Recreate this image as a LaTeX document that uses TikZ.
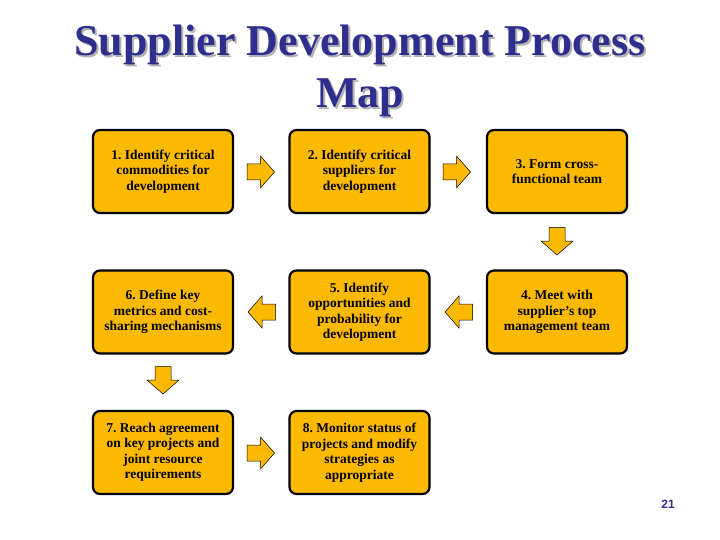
\documentclass[tikz,border=0pt]{standalone}
\usepackage{fontspec}
\setmainfont{Liberation Serif}
\setsansfont{Liberation Sans}
\definecolor{boxfill}{HTML}{FBBA00}
\definecolor{navy}{HTML}{2E2E8E}
\newcommand{\blkarrow}[4]{%
  \coordinate (#1) at (#2,#3);
  \draw[blk,shift={(#2,#3)},rotate=#4] (-13.5,-8)--(0,-8)--(0,-16)--(14,0)--(0,16)--(0,8)--(-13.5,8)--cycle;}
\begin{document}
\begin{tikzpicture}[x=1pt,y=-1pt,
  stepbox/.style={draw=black,line width=2.2pt,rounded corners=7pt,fill=boxfill,minimum width=140pt,minimum height=83pt,align=center,font=\bfseries\fontsize{13.5}{15.5}\selectfont,inner sep=2pt},
  blk/.style={draw=black,line width=0.5pt,fill=boxfill},
  ttl/.style={font=\bfseries\fontsize{44}{52}\selectfont,align=center}]
\useasboundingbox (0,0) rectangle (720,540);
\fill[white] (0,0) rectangle (720,540);
\node[ttl,text=gray!60] (shadow) at (362,73) {Supplier Development Process\\Map};
\node[ttl,text=navy] (title) at (360,71) {Supplier Development Process\\Map};
\node[stepbox] (b1) at (163,171.5) {1.\ Identify critical\\commodities for\\development};
\node[stepbox] (b2) at (359.5,171.5) {2.\ Identify critical\\suppliers for\\development};
\node[stepbox] (b3) at (557,171.5) {3.\ Form cross-\\functional team};
\node[stepbox] (b4) at (557,312) {4.\ Meet with\\supplier's top\\management team};
\node[stepbox] (b5) at (359.5,312) {5.\ Identify\\opportunities and\\probability for\\development};
\node[stepbox] (b6) at (163,312) {6.\ Define key\\metrics and cost-\\sharing mechanisms};
\node[stepbox] (b7) at (163,452.5) {7.\ Reach agreement\\on key projects and\\joint resource\\requirements};
\node[stepbox] (b8) at (359.5,452.5) {8.\ Monitor status of\\projects and modify\\strategies as\\appropriate};
\blkarrow{a12}{260.5}{172}{0}
\blkarrow{a23}{456.5}{172}{0}
\blkarrow{a34}{557}{241}{-90}
\blkarrow{a45}{459}{312}{180}
\blkarrow{a56}{262}{312}{180}
\blkarrow{a67}{163}{380}{-90}
\blkarrow{a78}{260.5}{453}{0}
\node[text=navy,font=\sffamily\bfseries\fontsize{12}{14}\selectfont] (pg) at (668,504) {21};
\end{tikzpicture}
\end{document}
